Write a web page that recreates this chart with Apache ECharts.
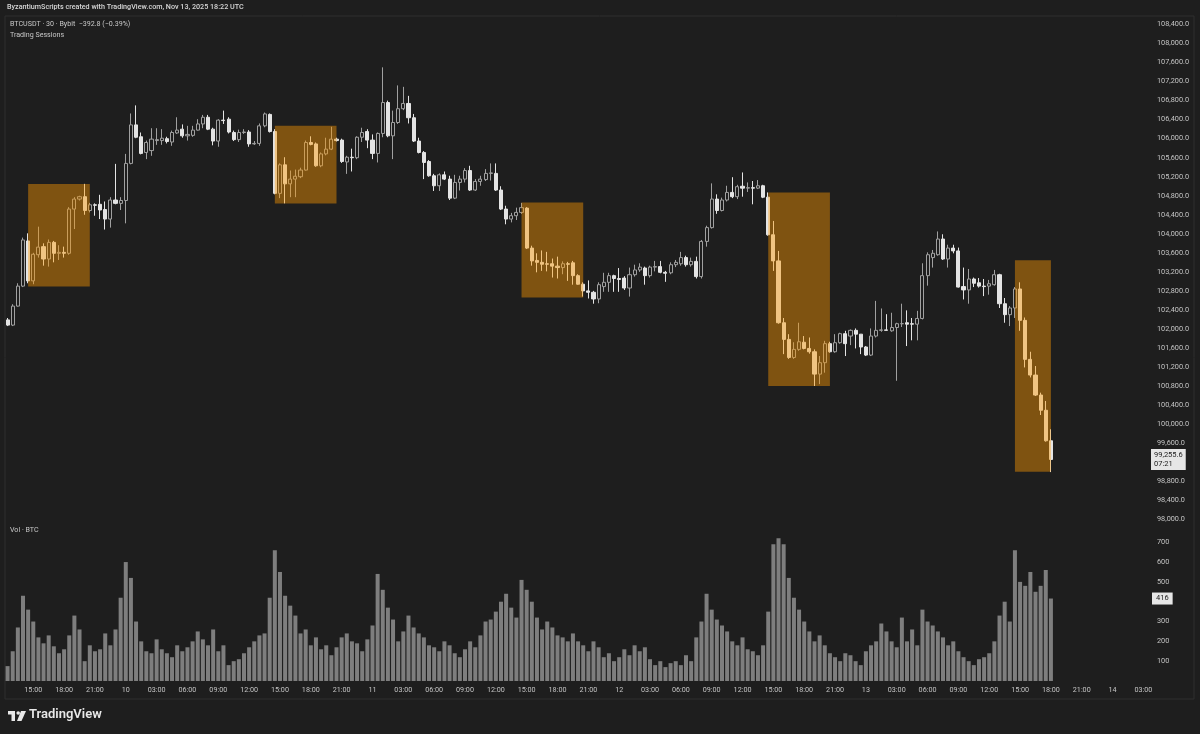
<!DOCTYPE html>
<html>
<head>
<meta charset="utf-8">
<script src="https://cdn.jsdelivr.net/npm/echarts@6/dist/echarts.min.js"></script>
<style>
html,body{margin:0;padding:0;background:#1e1e1e;}
#chart{width:1200px;height:734px;}
</style>
</head>
<body>
<div id="chart"></div>
<script>
// ---- data (30-minute BTCUSDT candles, Bybit, first bar 2025-11-09 12:30 UTC) ----
const startTime = Date.UTC(2025, 10, 9, 12, 30);
const barMinutes = 30;
const axisSlots = 222; // visible slots on the time axis (incl. empty future space)

const opens = [
102190,102080,102480,102900,103850,103010,103560,103730,103470,103820,
103590,103610,103590,104520,104730,104780,104490,104610,104620,104510,
104310,104710,104640,104700,105480,106290,106040,105710,105750,105960,
105960,106000,105930,106120,106200,106060,106070,106180,106310,106450,
106200,105950,106390,106410,106130,105980,106130,106140,105890,105900,
106270,106510,106150,104850,105450,105050,105150,105200,105340,105920,
105890,105430,105680,105780,105990,105970,105510,105610,105600,106030,
106150,105970,105690,106110,106760,106060,106340,106630,106740,106440,
105950,105710,105520,105220,105010,105240,105150,104750,105080,105150,
105330,104920,105100,105140,105270,105270,104920,104520,104310,104380,
104450,104540,103700,103440,103400,103370,103370,103320,103290,103370,
103390,103120,102940,102800,102770,102630,102890,102980,103120,103060,
103070,102860,103140,103240,103280,103120,103300,103310,103190,103180,
103350,103370,103500,103350,103420,103100,103840,104130,104730,104490,
104710,104870,104780,105000,104960,104970,104960,105010,104770,103980,
103430,102130,101780,101400,101570,101720,101590,101520,101050,101290,
101690,101520,101710,101900,101850,101970,101890,101620,101450,101850,
101970,101980,101960,102030,102110,102130,102110,102100,102220,103120,
103500,103560,103890,103470,103700,103640,102890,102820,103050,102970,
102900,102900,102930,103140,102530,102300,102440,102840,102180,101360,
101030,100610,100290,99648.4
];
const closes = [
102080,102480,102900,103870,103010,103570,103720,103470,103820,103590,
103610,103590,104520,104730,104780,104490,104610,104600,104500,104310,
104710,104640,104700,105480,106290,106030,105690,105920,105990,105980,
106010,105940,106130,106180,106060,106090,106180,106310,106450,106200,
105950,106390,106380,106140,105980,106130,106140,105890,105900,106270,
106520,106150,104850,105450,105050,105150,105210,105340,105920,105880,
105430,105680,105780,105990,105960,105520,105610,105600,106030,106130,
105970,105690,106110,106760,106060,106340,106630,106740,106440,105950,
105710,105500,105220,105010,105240,105150,104750,105080,105150,105330,
104920,105100,105150,105270,105280,104920,104520,104310,104380,104450,
104550,103700,103430,103400,103360,103360,103320,103290,103370,103360,
103120,102940,102800,102770,102630,102930,102980,103120,103060,103040,
102860,103140,103240,103300,103120,103300,103310,103190,103170,103350,
103400,103500,103350,103420,103100,103840,104130,104730,104490,104710,
104870,104780,104990,104960,104970,104960,105010,104770,103980,103430,
102130,101780,101400,101570,101730,101590,101520,101050,101290,101690,
101520,101710,101900,101690,101970,101890,101620,101450,101850,101970,
101980,101970,102030,102110,102110,102100,102100,102220,103120,103560,
103590,103890,103470,103700,103640,102880,102820,103050,102960,102900,
102890,102950,103140,102530,102300,102440,102840,102180,101360,101030,
100610,100290,99648.4,99255.6
];
const highs = [
102230,102520,102960,103920,104010,103600,104150,103800,103880,103850,
103760,103730,104560,104770,104800,105050,104650,104640,104820,104680,
104770,105470,104770,105680,106530,106700,106130,105960,106220,106220,
106200,106040,106170,106450,106300,106270,106270,106410,106500,106500,
106230,106410,106590,106450,106170,106190,106200,106180,105950,106320,
106550,106530,106200,105480,105610,105330,105350,105390,105960,106050,
105920,105710,106020,106250,106020,106000,105640,105790,106050,106230,
106200,106090,106130,107500,106800,106590,107120,107090,106900,106520,
106020,105740,105550,105260,105270,105310,105220,105240,105220,105380,
105430,105150,105220,105360,105480,105480,105000,104590,104440,104550,
104650,104560,103750,103590,103650,103620,103480,103520,103420,103410,
103430,103150,102980,103020,102800,102980,103180,103180,103140,103280,
103110,103290,103350,103380,103310,103330,103430,103430,103220,103400,
103450,103620,103540,103500,103520,103870,104170,105060,104830,104760,
105010,105190,105030,105290,105080,105110,105130,105030,104870,104270,
103640,102230,101890,101720,102130,101850,101820,101570,101430,101750,
101730,101890,101920,101960,101990,102010,101890,101640,102010,102590,
102430,102310,102340,102130,102530,102390,102230,102380,103380,103610,
103660,104050,103990,103770,103770,103710,103290,103260,103080,103070,
103050,103030,103240,103160,102650,102480,102880,102980,102240,101520,
101220,100660,100485,99890
];
const lows = [
102060,102060,102470,102880,102960,102940,103500,103330,103310,103400,
103450,103500,103560,104100,104700,104400,104450,104380,104310,104090,
104130,104620,104500,104220,105460,106010,105670,105570,105640,105870,
105870,105900,105850,106100,106020,105960,106040,106170,106220,106180,
105860,105830,106310,106110,105950,105930,106100,105830,105870,105850,
106240,106130,104830,104750,104640,104770,104770,105170,105330,105860,
105410,105400,105650,105760,105940,105490,105260,105310,105570,105930,
105800,105570,105500,106030,106030,105570,106310,106600,106320,105930,
105690,105150,105200,104900,104900,105130,104710,104730,104910,105080,
104900,104900,105010,105110,105120,104900,104500,104200,104240,104290,
104420,103680,103330,103190,103220,103210,103080,103060,103150,103010,
102930,102930,102680,102640,102530,102540,102780,102780,102780,102780,
102820,102680,103100,103200,102930,103080,103210,103170,102990,103150,
103300,103330,103310,103310,103060,103060,103730,104110,104420,104470,
104680,104750,104730,104780,104880,104620,104940,104750,103960,103220,
102110,101470,101370,101370,101540,101570,101480,100800,100840,101080,
101500,101500,101690,101430,101660,101590,101470,101430,101430,101820,
101940,101960,101940,100910,102040,101640,101760,101760,102200,102910,
103290,103540,103450,103290,103590,102870,102620,102530,102880,102870,
102690,102720,102910,102440,102130,102060,102230,101960,101190,100980,
100590,100190,99630,98990
];
const volumes = [
75,150,270,430,360,300,220,190,230,175,
140,160,230,330,260,100,180,150,160,240,
180,260,420,600,520,300,200,150,140,210,
160,140,120,180,150,170,200,250,210,180,
260,150,180,80,100,110,140,170,200,230,
240,420,660,550,430,380,330,240,260,180,
220,160,180,130,170,220,240,200,190,150,
210,280,540,460,370,310,200,250,330,270,
240,220,180,170,150,200,180,140,120,160,
200,170,230,300,310,350,400,440,370,320,
510,460,400,320,260,300,270,230,220,200,
240,200,180,150,200,170,120,140,100,120,
160,130,180,150,170,110,80,100,70,90,
100,80,130,100,220,300,440,360,310,280,
250,200,180,220,160,150,130,180,350,690,
720,690,520,420,360,300,250,200,230,180,
140,120,100,140,130,100,80,150,180,200,
290,250,200,170,320,200,260,180,360,300,
280,250,220,180,200,150,120,100,80,110,
120,140,200,330,400,300,660,500,480,550,
450,480,560,416
];
// "Trading Sessions" boxes (bar index range, session high / low as drawn)
const sessionStart = [4, 52, 100, 148, 196];
const sessionEnd   = [16, 64, 112, 160, 203];
const sessionHigh  = [105046, 106274, 104660, 104870, 103446];
const sessionLow   = [102891, 104638, 102660, 100801, 98997];

const priceTicks = {min: 97600, max: 108800, step: 400};
const volTicks = {min: 0, max: 800, step: 100};
const countdown = '07:21';

// ---- build ----
const pad = n => (n < 10 ? '0' : '') + n;
const categories = [];
for (let i = 0; i < axisSlots; i++) {
  const d = new Date(startTime + i * barMinutes * 60000);
  categories.push(d.getUTCFullYear() + '-' + pad(d.getUTCMonth() + 1) + '-' + pad(d.getUTCDate()) + ' ' + pad(d.getUTCHours()) + ':' + pad(d.getUTCMinutes()));
}
const candleData = opens.map((o, i) => [o, closes[i], lows[i], highs[i]]);
const sessionData = sessionStart.map((s, i) => [s, sessionEnd[i], sessionHigh[i], sessionLow[i]]);
const lastClose = closes[closes.length - 1];
const lastVol = volumes[volumes.length - 1];

const fmtPrice = v => v.toLocaleString('en-US', {minimumFractionDigits: 1, maximumFractionDigits: 1});
const FONT = 'Roboto, "Noto Sans", sans-serif';
const txt = '#c4c4c4';
const clear = 'rgba(0,0,0,0)';

const chart = echarts.init(document.getElementById('chart'), null, {renderer: 'canvas'});
chart.setOption({
  backgroundColor: '#1e1e1e',
  animation: false,
  textStyle: {fontFamily: FONT},
  grid: [
    {left: 5, right: 54, top: 5.5, height: 532.7},
    {left: 5, right: 54, top: 522.4, height: 158.6}
  ],
  xAxis: [
    {type: 'category', gridIndex: 0, data: categories, boundaryGap: true,
     axisLine: {show: false}, axisTick: {show: false}, axisLabel: {show: false}, splitLine: {show: false}},
    {type: 'category', gridIndex: 1, data: categories, boundaryGap: true,
     axisLine: {show: false}, axisTick: {show: false}, splitLine: {show: false},
     axisLabel: {
       color: txt, fontSize: 7.2, margin: 6, fontFamily: FONT,
       interval: (idx, val) => {
         const hh = +val.slice(11, 13), mm = +val.slice(14, 16);
         return mm === 0 && hh % 3 === 0;
       },
       formatter: val => {
         const hh = val.slice(11, 13), mm = val.slice(14, 16);
         if (hh === '00' && mm === '00') return String(+val.slice(8, 10));
         return hh + ':' + mm;
       }
     }}
  ],
  yAxis: [
    {type: 'value', gridIndex: 0, position: 'right', min: priceTicks.min, max: priceTicks.max, interval: priceTicks.step,
     axisLine: {show: false}, axisTick: {show: false}, splitLine: {show: false},
     axisLabel: {color: txt, fontSize: 7.3, margin: 11, fontFamily: FONT, showMinLabel: false, showMaxLabel: false,
                 formatter: v => fmtPrice(v)}},
    {type: 'value', gridIndex: 1, position: 'right', min: volTicks.min, max: volTicks.max, interval: volTicks.step,
     axisLine: {show: false}, axisTick: {show: false}, splitLine: {show: false},
     axisLabel: {color: txt, fontSize: 7.3, margin: 11, fontFamily: FONT, showMinLabel: false, showMaxLabel: false}}
  ],
  series: [
    {
      type: 'bar', name: 'Vol', xAxisIndex: 1, yAxisIndex: 1, data: volumes,
      barWidth: 4, itemStyle: {color: '#7e7e7e'}, z: 1,
      markLine: {
        silent: true, symbol: ['none', 'none'], lineStyle: {color: clear, width: 1, type: 'solid'},
        data: [{yAxis: lastVol}],
        label: {show: true, position: 'end', distance: 6, formatter: String(lastVol),
                backgroundColor: '#e6e6e6', color: '#1a1a1a', fontSize: 7.5, padding: [2, 4, 2, 4], fontFamily: FONT}
      }
    },
    {
      type: 'candlestick', name: 'BTCUSDT', xAxisIndex: 0, yAxisIndex: 0, data: candleData,
      barWidth: 3.6, z: 3,
      itemStyle: {color: clear, color0: '#e4e4e4', borderColor: '#a0a0a0', borderColor0: '#e4e4e4', borderWidth: 1},
      markLine: {
        silent: true, symbol: ['none', 'none'], lineStyle: {color: clear, width: 1, type: 'solid'},
        data: [{yAxis: lastClose}],
        label: {show: true, position: 'end', distance: 5, formatter: fmtPrice(lastClose) + '\n' + countdown,
                backgroundColor: '#e6e6e6', color: '#1a1a1a', fontSize: 7.5, lineHeight: 9.5, padding: [1, 3, 1, 3], fontFamily: FONT}
      }
    },
    {
      type: 'custom', name: 'Trading Sessions', xAxisIndex: 0, yAxisIndex: 0, data: sessionData, z: 10,
      encode: {x: [0, 1], y: [2, 3]},
      renderItem: (params, api) => {
        const p1 = api.coord([api.value(0), api.value(2)]);
        const p2 = api.coord([api.value(1), api.value(3)]);
        return {type: 'rect', shape: {x: p1[0], y: p1[1], width: p2[0] - p1[0], height: p2[1] - p1[1]},
                style: {fill: 'rgba(255,152,0,0.43)'}};
      }
    }
  ],
  graphic: [
    {type: 'rect', shape: {x: 5, y: 16, width: 1189, height: 683}, style: {fill: 'none', stroke: '#2f2f2f', lineWidth: 1}, z: 0, silent: true},
    {type: 'text', left: 7, top: 4, style: {text: 'ByzantiumScripts created with TradingView.com, Nov 13, 2025 18:22 UTC', fill: '#d8d8d8', fontSize: 7.2, fontWeight: 500, fontFamily: FONT}},
    {type: 'text', left: 10, top: 21, style: {text: 'BTCUSDT · 30 · Bybit  \u2212392.8 (\u22120.39%)', fill: '#c8c8c8', fontSize: 7.1, fontFamily: FONT}},
    {type: 'text', left: 10, top: 32, style: {text: 'Trading Sessions', fill: '#c8c8c8', fontSize: 7.1, fontFamily: FONT}},
    {type: 'text', left: 10, top: 527, style: {text: 'Vol · BTC', fill: '#c8c8c8', fontSize: 7.1, fontFamily: FONT}},
    {type: 'rect', shape: {x: 8, y: 711, width: 7, height: 3.5}, style: {fill: '#e8e8e8'}},
    {type: 'rect', shape: {x: 11.5, y: 711, width: 3.5, height: 10}, style: {fill: '#e8e8e8'}},
    {type: 'circle', shape: {cx: 18.2, cy: 713, r: 1.8}, style: {fill: '#e8e8e8'}},
    {type: 'polygon', shape: {points: [[21, 711], [26, 711], [21.5, 721], [17, 721]]}, style: {fill: '#e8e8e8'}},
    {type: 'text', left: 29, top: 708, style: {text: 'TradingView', fill: '#e8e8e8', fontSize: 13, fontWeight: 600, fontFamily: FONT}}
  ]
});
</script>
</body>
</html>
